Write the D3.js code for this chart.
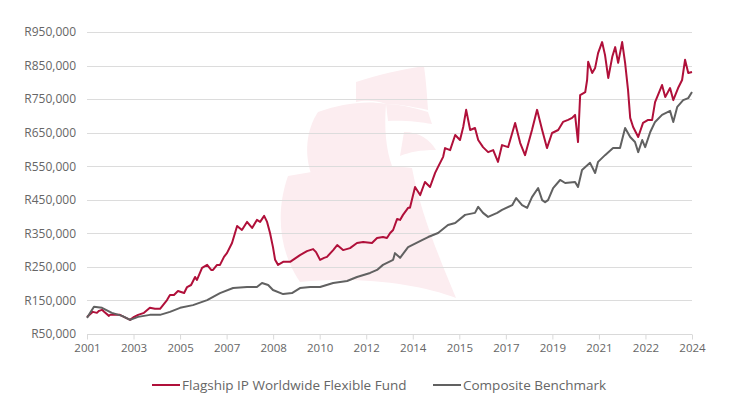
<!DOCTYPE html>
<html>
<head>
<meta charset="utf-8">
<script src="https://cdn.jsdelivr.net/npm/d3@7/dist/d3.min.js"></script>
<style>
  html, body { margin: 0; padding: 0; background: #ffffff; }
  svg { display: block; }
  text { font-family: "Open Sans", Lato, sans-serif; fill: #666666; }
</style>
</head>
<body>
<svg id="chart" width="735" height="402"></svg>
<script>
// ---- Data (values in R thousands, dates as decimal years) ----
const seriesNames = ["Flagship IP Worldwide Flexible Fund", "Composite Benchmark"];

const fundSeries = [
  [2001.85,101],[2002.07,116],[2002.22,113],[2002.30,119],[2002.41,122],[2002.49,116],[2002.67,104],[2002.71,107],
  [2002.97,107],[2003.08,107],[2003.23,101],[2003.46,92],[2003.61,101],[2003.76,107],[2003.98,113],[2004.20,128],
  [2004.39,125],[2004.58,125],[2004.84,151],[2004.95,166],[2005.10,166],[2005.25,178],[2005.48,172],[2005.59,190],
  [2005.74,196],[2005.89,220],[2005.96,211],[2006.15,247],[2006.34,256],[2006.49,241],[2006.56,241],[2006.71,256],
  [2006.82,256],[2006.97,280],[2007.08,291],[2007.27,321],[2007.46,372],[2007.64,360],[2007.83,384],[2008.02,366],
  [2008.20,390],[2008.32,384],[2008.47,402],[2008.58,384],[2008.69,351],[2008.80,309],[2008.88,271],[2008.99,256],
  [2009.18,265],[2009.44,265],[2009.55,271],[2009.81,285],[2010.07,297],[2010.30,303],[2010.41,294],[2010.56,271],
  [2010.71,277],[2010.82,280],[2011.05,300],[2011.20,315],[2011.42,300],[2011.68,306],[2011.94,321],[2012.17,324],
  [2012.50,321],[2012.69,336],[2012.91,339],[2013.06,336],[2013.18,351],[2013.29,360],[2013.44,393],[2013.55,390],
  [2013.66,405],[2013.85,426],[2013.92,426],[2014.11,488],[2014.30,464],[2014.48,503],[2014.67,488],[2014.86,530],
  [2014.97,548],[2015.16,578],[2015.23,604],[2015.42,598],[2015.61,643],[2015.79,628],[2015.91,667],[2016.02,718],
  [2016.17,658],[2016.35,664],[2016.47,628],[2016.65,607],[2016.84,592],[2017.03,598],[2017.21,563],[2017.36,613],
  [2017.59,607],[2017.85,679],[2018.04,619],[2018.22,583],[2018.48,658],[2018.67,718],[2018.86,658],[2019.04,604],
  [2019.23,649],[2019.46,658],[2019.64,682],[2019.83,688],[2019.98,694],[2020.09,703],[2020.20,622],[2020.28,762],
  [2020.47,771],[2020.54,807],[2020.58,861],[2020.73,828],[2020.84,843],[2020.95,887],[2021.10,920],[2021.21,881],
  [2021.33,813],[2021.48,876],[2021.59,905],[2021.70,858],[2021.85,920],[2021.96,858],[2022.07,777],[2022.15,694],
  [2022.26,667],[2022.45,637],[2022.63,679],[2022.82,688],[2022.97,688],[2023.08,741],[2023.34,792],[2023.46,756],
  [2023.64,783],[2023.76,747],[2023.94,783],[2024.09,807],[2024.20,867],[2024.32,828],[2024.46,831]
];

const benchmarkSeries = [
  [2001.85,98],[2002.11,131],[2002.41,128],[2002.78,113],[2003.16,104],[2003.46,92],[2003.76,101],[2004.20,107],
  [2004.58,107],[2004.95,116],[2005.33,128],[2005.81,136],[2006.34,151],[2006.82,172],[2007.31,187],[2007.83,190],
  [2008.20,190],[2008.39,202],[2008.62,196],[2008.80,181],[2009.18,169],[2009.51,172],[2009.81,187],[2010.19,190],
  [2010.56,190],[2011.05,202],[2011.57,208],[2011.94,220],[2012.43,232],[2012.69,241],[2012.91,256],[2013.29,271],
  [2013.36,291],[2013.55,277],[2013.85,309],[2014.37,330],[2014.60,339],[2014.97,351],[2015.34,375],[2015.61,381],
  [2015.98,405],[2016.35,411],[2016.47,429],[2016.65,411],[2016.84,399],[2017.18,411],[2017.36,420],[2017.74,434],
  [2017.89,455],[2018.11,434],[2018.30,426],[2018.48,458],[2018.71,485],[2018.86,449],[2018.97,443],[2019.08,449],
  [2019.27,485],[2019.53,509],[2019.72,500],[2020.09,503],[2020.20,488],[2020.35,539],[2020.65,560],[2020.84,530],
  [2020.95,563],[2021.21,583],[2021.51,604],[2021.77,604],[2021.96,664],[2022.15,637],[2022.33,622],[2022.45,592],
  [2022.60,628],[2022.71,607],[2022.90,652],[2023.08,682],[2023.34,703],[2023.64,715],[2023.76,682],[2023.91,727],
  [2024.13,747],[2024.32,753],[2024.46,771]
];

const yTicks = [50, 150, 250, 350, 450, 550, 650, 750, 850, 950];
const xTickLabels = ["2001","2003","2005","2007","2008","2010","2012","2014","2015","2017","2019","2021","2022","2024"];
const xDomain = [2001.85, 2024.46];

// ---- Layout ----
const colors = ["#b0103a", "#616161"];
const svg = d3.select("#chart");
const plot = { left: 87, right: 692, top: 32, bottom: 334 };

const x = d3.scaleLinear().domain(xDomain).range([plot.left, plot.right]);
const y = d3.scaleLinear().domain([50, 950]).range([plot.bottom, plot.top]);

// Watermark (decorative sail logo)
const wm = svg.append("g").attr("fill", "#fcedf0");
wm.append("path").attr("d", "M356,82 C380,74 400,70 424,66 C426,80 427,95 428,110 C410,106 395,104 386,104 C376,100 364,100 356,102 Z");
wm.append("path").attr("d", "M386,104 C400,104 414,108 428,112 L432,124 C420,122 404,120 388,121 Z");
wm.append("path").attr("d", "M318,112 C340,104 366,100 386,104 C384,128 386,150 392,166 C366,168 340,170 312,176 C304,155 306,130 318,112 Z");
wm.append("path").attr("d", "M288,176 C330,168 380,164 412,168 C420,210 436,250 456,298 C420,284 360,276 300,282 C278,250 276,210 288,176 Z");
wm.append("path").attr("d", "M404,132 C420,132 430,140 436,150 C420,150 410,152 400,156 Z");

// Gridlines
svg.append("g").selectAll("line").data(yTicks.slice(1)).join("line")
  .attr("x1", plot.left).attr("x2", plot.right)
  .attr("y1", d => Math.round(y(d)) + 0.5).attr("y2", d => Math.round(y(d)) + 0.5)
  .attr("stroke", "#dcdcdc").attr("stroke-width", 1);

// Y axis labels
const yAxis = d3.axisLeft(y).tickValues(yTicks).tickSize(0).tickPadding(0)
  .tickFormat(d => "R" + d3.format(",")(d * 1000));
const gy = svg.append("g").attr("transform", `translate(76,0)`).call(yAxis);
gy.select(".domain").remove();
gy.selectAll("text").attr("font-size", 12).attr("fill", "#666666").style("font-family", "'Open Sans', sans-serif");

// X axis
const xTickVals = xTickLabels.map((_, i) => xDomain[0] + i * (xDomain[1] - xDomain[0]) / (xTickLabels.length - 1));
const xAxis = d3.axisBottom(x).tickValues(xTickVals).tickSize(5).tickPadding(4)
  .tickFormat((d, i) => xTickLabels[i]);
const gx = svg.append("g").attr("transform", `translate(0,${plot.bottom + 0.5})`).call(xAxis);
gx.select(".domain").attr("stroke", "#d9d9d9").attr("d", `M${plot.left},0H${plot.right}`);
gx.selectAll(".tick line").attr("stroke", "#d9d9d9");
gx.selectAll("text").attr("font-size", 11.5).attr("fill", "#666666").style("font-family", "'Open Sans', sans-serif");

// Lines
const line = d3.line().x(d => x(d[0])).y(d => y(d[1]));
svg.append("path").datum(fundSeries).attr("d", line)
  .attr("fill", "none").attr("stroke", colors[0]).attr("stroke-width", 2).attr("stroke-linejoin", "round");
svg.append("path").datum(benchmarkSeries).attr("d", line)
  .attr("fill", "none").attr("stroke", colors[1]).attr("stroke-width", 2).attr("stroke-linejoin", "round");

// Legend
const legendItems = [
  { name: seriesNames[0], color: colors[0], x: 152 },
  { name: seriesNames[1], color: colors[1], x: 433 }
];
const lg = svg.append("g").attr("transform", "translate(0,385)");
legendItems.forEach(it => {
  lg.append("line").attr("x1", it.x).attr("x2", it.x + 28).attr("y1", 0).attr("y2", 0)
    .attr("stroke", it.color).attr("stroke-width", 2);
  lg.append("text").attr("x", it.x + 30).attr("y", 0).attr("dy", "0.35em")
    .attr("font-size", 13.5).attr("fill", "#666666").text(it.name);
});
</script>
</body>
</html>
